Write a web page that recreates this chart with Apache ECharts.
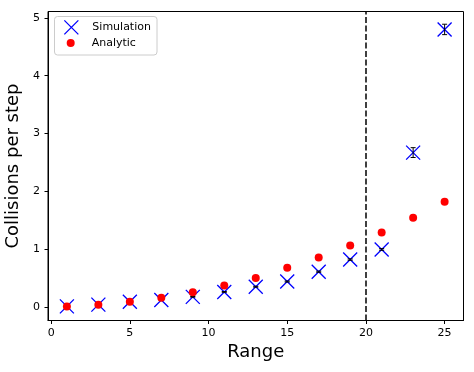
<!DOCTYPE html>
<html>
<head>
<meta charset="utf-8">
<script src="https://cdn.jsdelivr.net/npm/echarts@6/dist/echarts.min.js"></script>
<style>html,body{margin:0;padding:0;background:#fff;}#c{width:474px;height:372px;}</style>
</head>
<body>
<div id="c"></div>
<script>
var ranges = [1, 3, 5, 7, 9, 11, 13, 15, 17, 19, 21, 23, 25];
var simulation = [0.01, 0.04, 0.09, 0.12, 0.175, 0.26, 0.35, 0.44, 0.61, 0.82, 0.995, 2.67, 4.80];
var simErr = [0.002, 0.003, 0.004, 0.005, 0.006, 0.007, 0.008, 0.009, 0.01, 0.012, 0.014, 0.085, 0.09];
var analytic = [0.01, 0.04, 0.09, 0.158, 0.256, 0.37, 0.50, 0.677, 0.857, 1.065, 1.29, 1.543, 1.82];
var xTicks = [0, 5, 10, 15, 20, 25];
var yTicks = [0, 1, 2, 3, 4, 5];
var threshold = 20;

var FONT = 'DejaVu Sans';
var crossPath = 'path://M0,0L1,1M1,0L0,1';

var simData = ranges.map(function (x, i) { return [x, simulation[i]]; });
var errData = ranges.map(function (x, i) { return [x, simulation[i], simErr[i]]; });
var anaData = ranges.map(function (x, i) { return [x, analytic[i]]; });

var chart = echarts.init(document.getElementById('c'), null, {renderer: 'canvas'});
chart.setOption({
  animation: false,
  backgroundColor: '#fff',
  grid: {left: 48, right: 10.5, top: 11.5, bottom: 51.5, show: true, borderColor: '#000', borderWidth: 1,
         backgroundColor: 'transparent', containLabel: false, outerBoundsMode: 'none'},
  xAxis: {
    type: 'value', min: -0.2, max: 26.2,
    name: 'Range', nameLocation: 'middle', nameGap: 23,
    nameTextStyle: {fontFamily: FONT, fontSize: 18, color: '#000'},
    axisLine: {show: true, onZero: false, lineStyle: {color: '#000', width: 1}},
    axisTick: {show: true, inside: false, length: 3.5, lineStyle: {color: '#000'}, customValues: xTicks},
    axisLabel: {fontFamily: FONT, fontSize: 11, color: '#000', margin: 7, customValues: xTicks},
    splitLine: {show: false}
  },
  yAxis: {
    type: 'value', min: -0.234, max: 5.11,
    name: 'Collisions per step', nameLocation: 'middle', nameGap: 22,
    nameTextStyle: {fontFamily: FONT, fontSize: 18, color: '#000'},
    axisLine: {show: true, onZero: false, lineStyle: {color: '#000', width: 1}},
    axisTick: {show: true, inside: false, length: 3.5, lineStyle: {color: '#000'}, customValues: yTicks},
    axisLabel: {fontFamily: FONT, fontSize: 11, color: '#000', margin: 8, customValues: yTicks},
    splitLine: {show: false}
  },
  graphic: [{
    type: 'rect', z: 3,
    shape: {x: 54.5, y: 16.5, width: 102.5, height: 38.5, r: 3},
    style: {fill: 'rgba(255,255,255,0.8)', stroke: '#cccccc', lineWidth: 1}
  }],
  legend: [{
    data: [{name: 'Simulation', icon: crossPath}],
    left: 63.7, top: 19.7, padding: 0, orient: 'vertical',
    itemWidth: 14, itemHeight: 14,
    itemStyle: {color: 'rgba(0,0,0,0)', borderColor: '#0000ff', borderWidth: 1.3, opacity: 1},
    textStyle: {fontFamily: FONT, fontSize: 11, color: '#000', padding: [0, 0, 0, 9]},
    selectedMode: false
  }, {
    data: [{name: 'Analytic', icon: 'circle'}],
    left: 66.7, top: 37.5, padding: 0, orient: 'vertical',
    itemWidth: 8, itemHeight: 8,
    itemStyle: {color: '#ff0000', borderWidth: 0, opacity: 1},
    textStyle: {fontFamily: FONT, fontSize: 11, color: '#000', padding: [0, 0, 0, 12]},
    selectedMode: false
  }],
  series: [{
    name: 'Simulation', type: 'scatter', z: 2,
    data: simData, symbol: crossPath, symbolSize: 14,
    itemStyle: {color: 'rgba(0,0,0,0)', borderColor: '#0000ff', borderWidth: 1.3, opacity: 1},
    emphasis: {disabled: true},
    markLine: {
      silent: true, symbol: 'none', animation: false,
      label: {show: false},
      lineStyle: {color: '#000', width: 1.5, type: [6, 2.5], opacity: 1},
      data: [{xAxis: threshold}]
    }
  }, {
    name: 'SimErr', type: 'custom', z: 3,
    data: errData,
    renderItem: function (params, api) {
      var x = api.value(0), y = api.value(1), e = api.value(2);
      var top = api.coord([x, y + e]);
      var bot = api.coord([x, y - e]);
      var cw = 2.5;
      var st = {stroke: '#000', lineWidth: 1};
      return {type: 'group', children: [
        {type: 'line', shape: {x1: top[0], y1: top[1], x2: bot[0], y2: bot[1]}, style: st},
        {type: 'line', shape: {x1: top[0] - cw, y1: top[1], x2: top[0] + cw, y2: top[1]}, style: st},
        {type: 'line', shape: {x1: bot[0] - cw, y1: bot[1], x2: bot[0] + cw, y2: bot[1]}, style: st}
      ]};
    },
    silent: true
  }, {
    name: 'Analytic', type: 'scatter', z: 4,
    data: anaData, symbol: 'circle', symbolSize: 8,
    itemStyle: {color: '#ff0000', opacity: 1},
    emphasis: {disabled: true}
  }]
});
</script>
</body>
</html>
